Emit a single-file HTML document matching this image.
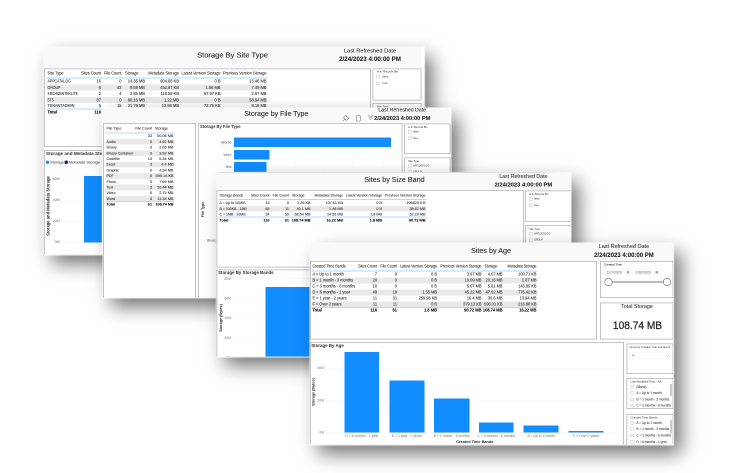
<!DOCTYPE html>
<html lang="en"><head><meta charset="utf-8"><title>Storage reports</title>
<style>
html,body{margin:0;padding:0;background:#fff;}
body{width:750px;height:473px;overflow:hidden;position:relative;font-family:"Liberation Sans", sans-serif;color:#333;}
.p{position:absolute;width:0;height:0;}
.c{position:absolute;overflow:hidden;background:#fff;box-shadow:0 0 2px 1.5px rgba(255,255,255,0.9),16px 18px 37px rgba(0,0,0,0.57);}
.b{position:absolute;left:0;top:0;width:800px;height:460px;transform-origin:0 0;transform:scale(0.5);will-change:transform;}
.r{position:absolute;}
.t{position:absolute;white-space:nowrap;line-height:1.2;-webkit-text-stroke:0.12px currentColor;z-index:1;}
.l{-webkit-text-stroke:0;}
.h{-webkit-text-stroke:0.5px currentColor;}
.h2{-webkit-text-stroke:0.18px currentColor;}
</style></head>
<body>
<div class="p" style="left:43px;top:47px"><div class="b"><div class="c" style="left:1.8px;top:0px;width:760.4px;height:415px"><div class="r" style="left:0px;top:0px;width:754.2px;height:41px;background:#f9f9f9;"></div><div class="t h2" style="left:377.2px;top:7.24px;font-size:15.1px;color:#2a2a2a;transform:translateX(-50%);transform-origin:50% 50%;">Storage By Site Type</div><div class="t" style="left:652.2px;top:0.73px;font-size:11.4px;color:#303030;transform:translateX(-50%);transform-origin:50% 50%;">Last Refreshed Date</div><div class="t" style="left:652.2px;top:16.9px;font-size:12.43px;font-weight:700;color:#1a1a1a;transform:translateX(-50%);transform-origin:50% 50%;">2/24/2023 4:00:00 PM</div><div class="r" style="left:0px;top:42.6px;width:653.8px;height:157.8px;background:#fff;box-shadow:inset 0 0 0 1.6px #b4b4b4;"></div><div class="t" style="left:7.4px;top:47.39px;font-size:8.4px;color:#2a2a2a;transform:scaleX(0.92);transform-origin:0 50%;">Site Type</div><div class="t" style="left:114.6px;top:47.39px;font-size:8.4px;color:#2a2a2a;transform:translateX(-100%) scaleX(0.92);transform-origin:100% 50%;">Sites Count</div><div class="t" style="left:155.6px;top:47.39px;font-size:8.4px;color:#2a2a2a;transform:translateX(-100%) scaleX(0.92);transform-origin:100% 50%;">File Count</div><div class="t" style="left:162.2px;top:47.39px;font-size:8.4px;color:#2a2a2a;transform:scaleX(0.92);transform-origin:0 50%;">Storage</div><div class="t" style="left:269.8px;top:47.39px;font-size:8.4px;color:#2a2a2a;transform:translateX(-100%) scaleX(0.92);transform-origin:100% 50%;">Metadata Storage</div><div class="t" style="left:353px;top:47.39px;font-size:8.4px;color:#2a2a2a;transform:translateX(-100%) scaleX(0.92);transform-origin:100% 50%;">Latest Version Storage</div><div class="t" style="left:445.2px;top:47.39px;font-size:8.4px;color:#2a2a2a;transform:translateX(-100%) scaleX(0.92);transform-origin:100% 50%;">Previous Version Storage</div><div class="r" style="left:5.2px;top:61px;width:442px;height:2px;background:#b3d9f7;"></div><div class="t" style="left:7.4px;top:63.19px;font-size:8.4px;color:#262626;transform:scaleX(0.84);transform-origin:0 50%;">APPCATALOG</div><div class="t" style="left:114.6px;top:63.19px;font-size:8.4px;color:#262626;transform:translateX(-100%) scaleX(0.96);transform-origin:100% 50%;">16</div><div class="t" style="left:155.6px;top:63.19px;font-size:8.4px;color:#262626;transform:translateX(-100%) scaleX(0.96);transform-origin:100% 50%;">0</div><div class="t" style="left:202.6px;top:63.19px;font-size:8.4px;color:#262626;transform:translateX(-100%) scaleX(0.96);transform-origin:100% 50%;">14.35 MB</div><div class="t" style="left:269.8px;top:63.19px;font-size:8.4px;color:#262626;transform:translateX(-100%) scaleX(0.96);transform-origin:100% 50%;">904.88 KB</div><div class="t" style="left:353px;top:63.19px;font-size:8.4px;color:#262626;transform:translateX(-100%) scaleX(0.96);transform-origin:100% 50%;">0 B</div><div class="t" style="left:445.2px;top:63.19px;font-size:8.4px;color:#262626;transform:translateX(-100%) scaleX(0.96);transform-origin:100% 50%;">13.46 MB</div><div class="r" style="left:5.2px;top:74.7px;width:442px;height:12.2px;background:#e9e9e9;"></div><div class="t" style="left:7.4px;top:75.59px;font-size:8.4px;color:#262626;transform:scaleX(0.84);transform-origin:0 50%;">GROUP</div><div class="t" style="left:114.6px;top:75.59px;font-size:8.4px;color:#262626;transform:translateX(-100%) scaleX(0.96);transform-origin:100% 50%;">6</div><div class="t" style="left:155.6px;top:75.59px;font-size:8.4px;color:#262626;transform:translateX(-100%) scaleX(0.96);transform-origin:100% 50%;">42</div><div class="t" style="left:202.6px;top:75.59px;font-size:8.4px;color:#262626;transform:translateX(-100%) scaleX(0.96);transform-origin:100% 50%;">9.59 MB</div><div class="t" style="left:269.8px;top:75.59px;font-size:8.4px;color:#262626;transform:translateX(-100%) scaleX(0.96);transform-origin:100% 50%;">452.67 KB</div><div class="t" style="left:353px;top:75.59px;font-size:8.4px;color:#262626;transform:translateX(-100%) scaleX(0.96);transform-origin:100% 50%;">1.66 MB</div><div class="t" style="left:445.2px;top:75.59px;font-size:8.4px;color:#262626;transform:translateX(-100%) scaleX(0.96);transform-origin:100% 50%;">7.49 MB</div><div class="t" style="left:7.4px;top:88.39px;font-size:8.4px;color:#262626;transform:scaleX(0.8);transform-origin:0 50%;">SRCHCENTERLITE</div><div class="t" style="left:114.6px;top:88.39px;font-size:8.4px;color:#262626;transform:translateX(-100%) scaleX(0.96);transform-origin:100% 50%;">2</div><div class="t" style="left:155.6px;top:88.39px;font-size:8.4px;color:#262626;transform:translateX(-100%) scaleX(0.96);transform-origin:100% 50%;">4</div><div class="t" style="left:202.6px;top:88.39px;font-size:8.4px;color:#262626;transform:translateX(-100%) scaleX(0.96);transform-origin:100% 50%;">2.85 MB</div><div class="t" style="left:269.8px;top:88.39px;font-size:8.4px;color:#262626;transform:translateX(-100%) scaleX(0.96);transform-origin:100% 50%;">116.58 KB</div><div class="t" style="left:353px;top:88.39px;font-size:8.4px;color:#262626;transform:translateX(-100%) scaleX(0.96);transform-origin:100% 50%;">67.97 KB</div><div class="t" style="left:445.2px;top:88.39px;font-size:8.4px;color:#262626;transform:translateX(-100%) scaleX(0.96);transform-origin:100% 50%;">2.67 MB</div><div class="r" style="left:5.2px;top:99.9px;width:442px;height:12.2px;background:#e9e9e9;"></div><div class="t" style="left:7.4px;top:100.79px;font-size:8.4px;color:#262626;transform:scaleX(0.78);transform-origin:0 50%;">STS</div><div class="t" style="left:114.6px;top:100.79px;font-size:8.4px;color:#262626;transform:translateX(-100%) scaleX(0.96);transform-origin:100% 50%;">87</div><div class="t" style="left:155.6px;top:100.79px;font-size:8.4px;color:#262626;transform:translateX(-100%) scaleX(0.96);transform-origin:100% 50%;">0</div><div class="t" style="left:202.6px;top:100.79px;font-size:8.4px;color:#262626;transform:translateX(-100%) scaleX(0.96);transform-origin:100% 50%;">60.16 MB</div><div class="t" style="left:269.8px;top:100.79px;font-size:8.4px;color:#262626;transform:translateX(-100%) scaleX(0.96);transform-origin:100% 50%;">1.22 MB</div><div class="t" style="left:353px;top:100.79px;font-size:8.4px;color:#262626;transform:translateX(-100%) scaleX(0.96);transform-origin:100% 50%;">0 B</div><div class="t" style="left:445.2px;top:100.79px;font-size:8.4px;color:#262626;transform:translateX(-100%) scaleX(0.96);transform-origin:100% 50%;">58.94 MB</div><div class="t" style="left:7.4px;top:112.19px;font-size:8.4px;color:#262626;transform:scaleX(0.9);transform-origin:0 50%;">TENANTADMIN</div><div class="t" style="left:114.6px;top:112.19px;font-size:8.4px;color:#262626;transform:translateX(-100%) scaleX(0.96);transform-origin:100% 50%;">5</div><div class="t" style="left:155.6px;top:112.19px;font-size:8.4px;color:#262626;transform:translateX(-100%) scaleX(0.96);transform-origin:100% 50%;">15</div><div class="t" style="left:202.6px;top:112.19px;font-size:8.4px;color:#262626;transform:translateX(-100%) scaleX(0.96);transform-origin:100% 50%;">21.79 MB</div><div class="t" style="left:269.8px;top:112.19px;font-size:8.4px;color:#262626;transform:translateX(-100%) scaleX(0.96);transform-origin:100% 50%;">13.56 MB</div><div class="t" style="left:353px;top:112.19px;font-size:8.4px;color:#262626;transform:translateX(-100%) scaleX(0.96);transform-origin:100% 50%;">72.75 KB</div><div class="t" style="left:445.2px;top:112.19px;font-size:8.4px;color:#262626;transform:translateX(-100%) scaleX(0.96);transform-origin:100% 50%;">8.16 MB</div><div class="r" style="left:5.2px;top:123px;width:442px;height:2px;background:#b3d9f7;"></div><div class="t" style="left:7.4px;top:125.39px;font-size:8.4px;font-weight:700;color:#000;transform:scaleX(0.98);transform-origin:0 50%;">Total</div><div class="t" style="left:114.6px;top:125.39px;font-size:8.4px;font-weight:700;color:#000;transform:translateX(-100%) scaleX(0.98);transform-origin:100% 50%;">116</div><div class="t" style="left:155.6px;top:125.39px;font-size:8.4px;font-weight:700;color:#000;transform:translateX(-100%) scaleX(0.98);transform-origin:100% 50%;">61</div><div class="t" style="left:202.6px;top:125.39px;font-size:8.4px;font-weight:700;color:#000;transform:translateX(-100%) scaleX(0.98);transform-origin:100% 50%;">108.74 MB</div><div class="t" style="left:269.8px;top:125.39px;font-size:8.4px;font-weight:700;color:#000;transform:translateX(-100%) scaleX(0.98);transform-origin:100% 50%;">16.22 MB</div><div class="t" style="left:353px;top:125.39px;font-size:8.4px;font-weight:700;color:#000;transform:translateX(-100%) scaleX(0.98);transform-origin:100% 50%;">1.8 MB</div><div class="t" style="left:445.2px;top:125.39px;font-size:8.4px;font-weight:700;color:#000;transform:translateX(-100%) scaleX(0.98);transform-origin:100% 50%;">90.72 MB</div><div class="r" style="left:657.2px;top:42.6px;width:98.2px;height:64.6px;background:#fff;box-shadow:inset 0 0 0 1.6px #b4b4b4;"></div><div class="t l" style="left:665.6px;top:46px;font-size:5.8px;color:#333;">Is In Recycle Bin</div><div class="r" style="left:665.4px;top:56.4px;width:6.4px;height:6.4px;background:#fff;box-shadow:inset 0 0 0 0.8px #bdbdbd;"></div><div class="t l" style="left:676.6px;top:56px;font-size:5.8px;color:#383838;">false</div><div class="r" style="left:665.4px;top:69.8px;width:6.4px;height:6.4px;background:#fff;box-shadow:inset 0 0 0 0.8px #bdbdbd;"></div><div class="t l" style="left:676.6px;top:69.4px;font-size:5.8px;color:#383838;">true</div><div class="r" style="left:657.2px;top:112.4px;width:98.2px;height:87.6px;background:#fff;box-shadow:inset 0 0 0 1.6px #b4b4b4;"></div><div class="t l" style="left:665.6px;top:115.6px;font-size:5.8px;color:#333;">Site Type</div><div class="r" style="left:665.4px;top:125.8px;width:6.4px;height:6.4px;background:#fff;box-shadow:inset 0 0 0 0.8px #bdbdbd;"></div><div class="t l" style="left:676.6px;top:125.4px;font-size:5.8px;color:#383838;transform:scaleX(0.84);transform-origin:0 50%;">APPCATALOG</div><div class="r" style="left:665.4px;top:138.8px;width:6.4px;height:6.4px;background:#fff;box-shadow:inset 0 0 0 0.8px #bdbdbd;"></div><div class="t l" style="left:676.6px;top:138.4px;font-size:5.8px;color:#383838;transform:scaleX(0.84);transform-origin:0 50%;">GROUP</div><div class="r" style="left:0px;top:205.6px;width:756.2px;height:221.2px;background:#fff;box-shadow:inset 0 0 0 1.6px #b4b4b4;"></div><div class="t l" style="left:4.6px;top:207.37px;font-size:9.4px;font-weight:700;color:#303030;transform:scaleX(0.98);transform-origin:0 50%;">Storage and Metadata Storage</div><div class="r" style="left:4.2px;top:227.4px;width:6.2px;height:6.2px;background:#118dff;border-radius:50%;"></div><div class="t" style="left:12.2px;top:225.7px;font-size:7.9px;color:#555;">Storage</div><div class="r" style="left:41.6px;top:227.4px;width:6.2px;height:6.2px;background:#12239e;border-radius:50%;"></div><div class="t" style="left:49.8px;top:225.7px;font-size:7.9px;color:#555;">Metadata Storage</div><div class="t l" style="left:31.4px;top:260.14px;font-size:7.2px;color:#6a6a6a;transform:translateX(-100%);transform-origin:100% 50%;">60M</div><div class="r" style="left:35.2px;top:264.2px;width:717px;height:0.8px;background:#f0f0f0;"></div><div class="t l" style="left:31.4px;top:302.14px;font-size:7.2px;color:#6a6a6a;transform:translateX(-100%);transform-origin:100% 50%;">40M</div><div class="r" style="left:35.2px;top:306.2px;width:717px;height:0.8px;background:#f0f0f0;"></div><div class="t l" style="left:31.4px;top:344.34px;font-size:7.2px;color:#6a6a6a;transform:translateX(-100%);transform-origin:100% 50%;">20M</div><div class="r" style="left:35.2px;top:348.4px;width:717px;height:0.8px;background:#f0f0f0;"></div><div class="t l" style="left:31.4px;top:386.34px;font-size:7.2px;color:#6a6a6a;transform:translateX(-100%);transform-origin:100% 50%;">0M</div><div class="r" style="left:35.2px;top:390.4px;width:717px;height:0.8px;background:#f0f0f0;"></div><div class="t l" style="left:9px;top:318px;font-size:8.3px;font-weight:700;color:#252525;transform:translate(-50%,-50%) rotate(-90deg);transform-origin:50% 50%;">Storage and Metadata Storage</div><div class="r" style="left:80.2px;top:257.9px;width:52px;height:132.9px;background:#118dff;"></div></div></div></div>
<div class="p" style="left:103px;top:107px"><div class="b"><div class="r" style="left:-3.2px;top:2.4px;width:3.6px;height:292.2px;background:linear-gradient(to right,rgba(255,255,255,0),#fff 45%);z-index:2"></div><div class="c" style="left:0px;top:1.6px;width:695px;height:379px"><div class="r" style="left:0px;top:0px;width:692.6px;height:30.8px;background:#f9f9f9;"></div><div class="t h2" style="left:346.6px;top:3.72px;font-size:14px;color:#2a2a2a;transform:translateX(-50%);transform-origin:50% 50%;">Storage by File Type</div><div class="t" style="left:598.4px;top:-2.05px;font-size:10.4px;color:#303030;transform:translateX(-50%);transform-origin:50% 50%;">Last Refreshed Date</div><div class="t" style="left:598.4px;top:14.39px;font-size:11.3px;font-weight:700;color:#1a1a1a;transform:translateX(-50%);transform-origin:50% 50%;">2/24/2023 4:00:00 PM</div><div class="r" style="left:0.2px;top:30.8px;width:186px;height:354.4px;background:#fff;box-shadow:inset 0 0 0 1.6px #b4b4b4;"></div><div class="t" style="left:6.6px;top:36.84px;font-size:8px;color:#2a2a2a;transform:scaleX(0.92);transform-origin:0 50%;">File Type</div><div class="t" style="left:97.8px;top:36.84px;font-size:8px;color:#2a2a2a;transform:translateX(-100%) scaleX(0.92);transform-origin:100% 50%;">File Count</div><div class="t" style="left:103.6px;top:36.84px;font-size:8px;color:#2a2a2a;transform:scaleX(0.92);transform-origin:0 50%;">Storage</div><div class="r" style="left:4.6px;top:49.35px;width:138px;height:2px;background:#b3d9f7;"></div><div class="t" style="left:97.8px;top:51.84px;font-size:8px;color:#262626;transform:translateX(-100%) scaleX(0.96);transform-origin:100% 50%;">33</div><div class="t" style="left:141px;top:51.84px;font-size:8px;color:#262626;transform:translateX(-100%) scaleX(0.96);transform-origin:100% 50%;">50.06 MB</div><div class="r" style="left:4.6px;top:62.5px;width:138px;height:11.4px;background:#e9e9e9;"></div><div class="t" style="left:6.6px;top:63.24px;font-size:8px;color:#262626;transform:scaleX(0.9);transform-origin:0 50%;">Audio</div><div class="t" style="left:97.8px;top:63.24px;font-size:8px;color:#262626;transform:translateX(-100%) scaleX(0.96);transform-origin:100% 50%;">0</div><div class="t" style="left:141px;top:63.24px;font-size:8px;color:#262626;transform:translateX(-100%) scaleX(0.96);transform-origin:100% 50%;">4.92 MB</div><div class="t" style="left:6.6px;top:74.64px;font-size:8px;color:#262626;transform:scaleX(0.9);transform-origin:0 50%;">Binary</div><div class="t" style="left:97.8px;top:74.64px;font-size:8px;color:#262626;transform:translateX(-100%) scaleX(0.96);transform-origin:100% 50%;">3</div><div class="t" style="left:141px;top:74.64px;font-size:8px;color:#262626;transform:translateX(-100%) scaleX(0.96);transform-origin:100% 50%;">2.65 MB</div><div class="r" style="left:4.6px;top:85.3px;width:138px;height:11.4px;background:#e9e9e9;"></div><div class="t" style="left:6.6px;top:86.04px;font-size:8px;color:#262626;transform:scaleX(0.9);transform-origin:0 50%;">Binary Container</div><div class="t" style="left:97.8px;top:86.04px;font-size:8px;color:#262626;transform:translateX(-100%) scaleX(0.96);transform-origin:100% 50%;">0</div><div class="t" style="left:141px;top:86.04px;font-size:8px;color:#262626;transform:translateX(-100%) scaleX(0.96);transform-origin:100% 50%;">3.92 MB</div><div class="t" style="left:6.6px;top:97.44px;font-size:8px;color:#262626;transform:scaleX(0.9);transform-origin:0 50%;">Codefile</div><div class="t" style="left:97.8px;top:97.44px;font-size:8px;color:#262626;transform:translateX(-100%) scaleX(0.96);transform-origin:100% 50%;">13</div><div class="t" style="left:141px;top:97.44px;font-size:8px;color:#262626;transform:translateX(-100%) scaleX(0.96);transform-origin:100% 50%;">5.34 MB</div><div class="r" style="left:4.6px;top:108.1px;width:138px;height:11.4px;background:#e9e9e9;"></div><div class="t" style="left:6.6px;top:108.84px;font-size:8px;color:#262626;transform:scaleX(0.9);transform-origin:0 50%;">Excel</div><div class="t" style="left:97.8px;top:108.84px;font-size:8px;color:#262626;transform:translateX(-100%) scaleX(0.96);transform-origin:100% 50%;">3</div><div class="t" style="left:141px;top:108.84px;font-size:8px;color:#262626;transform:translateX(-100%) scaleX(0.96);transform-origin:100% 50%;">4.4 MB</div><div class="t" style="left:6.6px;top:120.24px;font-size:8px;color:#262626;transform:scaleX(0.9);transform-origin:0 50%;">Graphic</div><div class="t" style="left:97.8px;top:120.24px;font-size:8px;color:#262626;transform:translateX(-100%) scaleX(0.96);transform-origin:100% 50%;">0</div><div class="t" style="left:141px;top:120.24px;font-size:8px;color:#262626;transform:translateX(-100%) scaleX(0.96);transform-origin:100% 50%;">4.34 MB</div><div class="r" style="left:4.6px;top:130.9px;width:138px;height:11.4px;background:#e9e9e9;"></div><div class="t" style="left:6.6px;top:131.64px;font-size:8px;color:#262626;transform:scaleX(0.9);transform-origin:0 50%;">PDF</div><div class="t" style="left:97.8px;top:131.64px;font-size:8px;color:#262626;transform:translateX(-100%) scaleX(0.96);transform-origin:100% 50%;">0</div><div class="t" style="left:141px;top:131.64px;font-size:8px;color:#262626;transform:translateX(-100%) scaleX(0.96);transform-origin:100% 50%;">595.14 KB</div><div class="t" style="left:6.6px;top:143.04px;font-size:8px;color:#262626;transform:scaleX(0.9);transform-origin:0 50%;">Photo</div><div class="t" style="left:97.8px;top:143.04px;font-size:8px;color:#262626;transform:translateX(-100%) scaleX(0.96);transform-origin:100% 50%;">3</div><div class="t" style="left:141px;top:143.04px;font-size:8px;color:#262626;transform:translateX(-100%) scaleX(0.96);transform-origin:100% 50%;">7.69 MB</div><div class="r" style="left:4.6px;top:153.7px;width:138px;height:11.4px;background:#e9e9e9;"></div><div class="t" style="left:6.6px;top:154.44px;font-size:8px;color:#262626;transform:scaleX(0.9);transform-origin:0 50%;">Text</div><div class="t" style="left:97.8px;top:154.44px;font-size:8px;color:#262626;transform:translateX(-100%) scaleX(0.96);transform-origin:100% 50%;">3</div><div class="t" style="left:141px;top:154.44px;font-size:8px;color:#262626;transform:translateX(-100%) scaleX(0.96);transform-origin:100% 50%;">10.44 MB</div><div class="t" style="left:6.6px;top:165.84px;font-size:8px;color:#262626;transform:scaleX(0.9);transform-origin:0 50%;">Video</div><div class="t" style="left:97.8px;top:165.84px;font-size:8px;color:#262626;transform:translateX(-100%) scaleX(0.96);transform-origin:100% 50%;">0</div><div class="t" style="left:141px;top:165.84px;font-size:8px;color:#262626;transform:translateX(-100%) scaleX(0.96);transform-origin:100% 50%;">2.75 MB</div><div class="r" style="left:4.6px;top:176.5px;width:138px;height:11.4px;background:#e9e9e9;"></div><div class="t" style="left:6.6px;top:177.24px;font-size:8px;color:#262626;transform:scaleX(0.9);transform-origin:0 50%;">Word</div><div class="t" style="left:97.8px;top:177.24px;font-size:8px;color:#262626;transform:translateX(-100%) scaleX(0.96);transform-origin:100% 50%;">3</div><div class="t" style="left:141px;top:177.24px;font-size:8px;color:#262626;transform:translateX(-100%) scaleX(0.96);transform-origin:100% 50%;">11.34 MB</div><div class="r" style="left:4.6px;top:186.67px;width:138px;height:2px;background:#b3d9f7;"></div><div class="t" style="left:6.6px;top:188.64px;font-size:8px;font-weight:700;color:#000;transform:scaleX(0.92);transform-origin:0 50%;">Total</div><div class="t" style="left:97.8px;top:188.64px;font-size:8px;font-weight:700;color:#000;transform:translateX(-100%) scaleX(0.92);transform-origin:100% 50%;">61</div><div class="t" style="left:141px;top:188.64px;font-size:8px;font-weight:700;color:#000;transform:translateX(-100%) scaleX(0.92);transform-origin:100% 50%;">108.74 MB</div><div class="r" style="left:190px;top:30.8px;width:409.2px;height:354.4px;background:#fff;box-shadow:inset 0 0 0 1.6px #b4b4b4;"></div><div class="t l" style="left:193.6px;top:32.87px;font-size:8.6px;font-weight:700;color:#383838;transform:scaleX(0.96);transform-origin:0 50%;">Storage By File Type</div><div class="r" style="left:322.2px;top:46.4px;width:0.8px;height:318px;background:#fafafa;"></div><div class="r" style="left:381.6px;top:46.4px;width:0.8px;height:318px;background:#fafafa;"></div><div class="r" style="left:440.8px;top:46.4px;width:0.8px;height:318px;background:#fafafa;"></div><div class="r" style="left:500px;top:46.4px;width:0.8px;height:318px;background:#fafafa;"></div><div class="r" style="left:559.2px;top:46.4px;width:0.8px;height:318px;background:#fafafa;"></div><div class="r" style="left:262px;top:59.6px;width:314px;height:19.2px;background:#118dff;"></div><div class="t l" style="left:256.8px;top:65.58px;font-size:6.8px;color:#606060;transform:translateX(-100%);transform-origin:100% 50%;">(Blank)</div><div class="r" style="left:262px;top:84px;width:70.8px;height:19.2px;background:#118dff;"></div><div class="t l" style="left:256.8px;top:89.98px;font-size:6.8px;color:#606060;transform:translateX(-100%);transform-origin:100% 50%;">Word</div><div class="r" style="left:262px;top:108.8px;width:65.4px;height:19.2px;background:#118dff;"></div><div class="t l" style="left:256.8px;top:114.78px;font-size:6.8px;color:#606060;transform:translateX(-100%);transform-origin:100% 50%;">Text</div><div class="t l" style="left:227.6px;top:261.38px;font-size:6.8px;color:#606060;transform:translateX(-100%);transform-origin:100% 50%;">Binary</div><div class="t l" style="left:199.6px;top:203.8px;font-size:7.3px;font-weight:700;color:#252525;transform:translate(-50%,-50%) rotate(-90deg);transform-origin:50% 50%;">File Type</div><div class="r" style="left:602px;top:31.4px;width:93px;height:60.8px;background:#fff;box-shadow:inset 0 0 0 1.6px #b4b4b4;"></div><div class="t l" style="left:610.4px;top:34.98px;font-size:5.2px;color:#333;">Is In Recycle Bin</div><div class="r" style="left:610.2px;top:44.8px;width:6.4px;height:6.4px;background:#fff;box-shadow:inset 0 0 0 0.8px #bdbdbd;"></div><div class="t l" style="left:619.8px;top:44.4px;font-size:5.8px;color:#383838;">false</div><div class="r" style="left:610.2px;top:57.4px;width:6.4px;height:6.4px;background:#fff;box-shadow:inset 0 0 0 0.8px #bdbdbd;"></div><div class="t l" style="left:619.8px;top:57px;font-size:5.8px;color:#383838;">true</div><div class="r" style="left:602px;top:99.6px;width:93px;height:85.6px;background:#fff;box-shadow:inset 0 0 0 1.6px #b4b4b4;"></div><div class="t l" style="left:610.4px;top:103.78px;font-size:5.2px;color:#333;">Site Type</div><div class="r" style="left:610.2px;top:112.6px;width:6.4px;height:6.4px;background:#fff;box-shadow:inset 0 0 0 0.8px #bdbdbd;"></div><div class="t l" style="left:619.8px;top:112.2px;font-size:5.8px;color:#383838;transform:scaleX(0.84);transform-origin:0 50%;">APPCATALOG</div><div class="r" style="left:610.2px;top:125px;width:6.4px;height:6.4px;background:#fff;box-shadow:inset 0 0 0 0.8px #bdbdbd;"></div><div class="t l" style="left:619.8px;top:124.6px;font-size:5.8px;color:#383838;transform:scaleX(0.84);transform-origin:0 50%;">GROUP</div><div class="r" style="left:476.8px;top:9.6px;width:21.6px;height:20.4px;background:#fdfdfd;"></div><div class="r" style="left:500.8px;top:9.6px;width:21.6px;height:20.4px;background:#fdfdfd;"></div><div class="r" style="left:525.2px;top:9.6px;width:21.6px;height:20.4px;background:#fdfdfd;"></div><svg class="r" style="left:474.4px;top:10.2px" width="72" height="20" viewBox="0 0 36 10"><g fill="none" stroke="#8c8c8c" stroke-width="0.7" stroke-linejoin="round" stroke-linecap="round"><path d="M5.6 2.3 L8.7 5.1 L6.3 7.5 L3.4 4.5 Z M4.9 6.0 L2.7 8.1"/><rect x="16.2" y="2.6" width="4.4" height="5.6" rx="1.7"/><path d="M28.0 3.0 H33.4 M29.2 4.9 H32.2 M30.1 6.8 H31.3"/></g></svg></div></div></div>
<div class="p" style="left:216px;top:172px"><div class="b"><div class="r" style="left:3px;top:-0.2px;width:679px;height:1.2px;background:linear-gradient(to right,rgba(150,150,150,0.5) 96%,rgba(150,150,150,0));z-index:2"></div><div class="c" style="left:1px;top:1px;width:708px;height:368.4px"><div class="r" style="left:0px;top:0px;width:708px;height:35px;background:#f9f9f9;"></div><div class="t h2" style="left:355.8px;top:6.47px;font-size:14.4px;color:#2a2a2a;transform:translateX(-50%);transform-origin:50% 50%;">Sites by Size Band</div><div class="t" style="left:613.8px;top:1.49px;font-size:10.5px;color:#303030;transform:translateX(-50%);transform-origin:50% 50%;">Last Refreshed Date</div><div class="t" style="left:613.8px;top:17.41px;font-size:11.6px;font-weight:700;color:#1a1a1a;transform:translateX(-50%);transform-origin:50% 50%;">2/24/2023 4:00:00 PM</div><div class="r" style="left:0.2px;top:35px;width:614.4px;height:154.8px;background:#fff;box-shadow:inset 0 0 0 1.6px #b4b4b4;"></div><div class="t" style="left:6px;top:40.56px;font-size:7.8px;color:#2a2a2a;transform:scaleX(0.92);transform-origin:0 50%;">Storage Bands</div><div class="t" style="left:105.6px;top:40.56px;font-size:7.8px;color:#2a2a2a;transform:translateX(-100%) scaleX(0.92);transform-origin:100% 50%;">Sites Count</div><div class="t" style="left:144.6px;top:40.56px;font-size:7.8px;color:#2a2a2a;transform:translateX(-100%) scaleX(0.92);transform-origin:100% 50%;">File Count</div><div class="t" style="left:151px;top:40.56px;font-size:7.8px;color:#2a2a2a;transform:scaleX(0.92);transform-origin:0 50%;">Storage</div><div class="t" style="left:253.4px;top:40.56px;font-size:7.8px;color:#2a2a2a;transform:translateX(-100%) scaleX(0.92);transform-origin:100% 50%;">Metadata Storage</div><div class="t" style="left:331.4px;top:40.56px;font-size:7.8px;color:#2a2a2a;transform:translateX(-100%) scaleX(0.92);transform-origin:100% 50%;">Latest Version Storage</div><div class="t" style="left:417.8px;top:40.56px;font-size:7.8px;color:#2a2a2a;transform:translateX(-100%) scaleX(0.92);transform-origin:100% 50%;">Previous Version Storage</div><div class="r" style="left:4px;top:53.09px;width:415.6px;height:2px;background:#b3d9f7;"></div><div class="t" style="left:6px;top:56.16px;font-size:7.8px;color:#262626;transform:scaleX(0.9);transform-origin:0 50%;">A = Up to 100KB</div><div class="t" style="left:105.6px;top:56.16px;font-size:7.8px;color:#262626;transform:translateX(-100%) scaleX(0.96);transform-origin:100% 50%;">13</div><div class="t" style="left:144.6px;top:56.16px;font-size:7.8px;color:#262626;transform:translateX(-100%) scaleX(0.96);transform-origin:100% 50%;">0</div><div class="t" style="left:188.4px;top:56.16px;font-size:7.8px;color:#262626;transform:translateX(-100%) scaleX(0.96);transform-origin:100% 50%;">1.26 KB</div><div class="t" style="left:253.4px;top:56.16px;font-size:7.8px;color:#262626;transform:translateX(-100%) scaleX(0.96);transform-origin:100% 50%;">107.61 KB</div><div class="t" style="left:331.4px;top:56.16px;font-size:7.8px;color:#262626;transform:translateX(-100%) scaleX(0.96);transform-origin:100% 50%;">0 B</div><div class="t" style="left:417.8px;top:56.16px;font-size:7.8px;color:#262626;transform:translateX(-100%) scaleX(0.96);transform-origin:100% 50%;">-106829.0 B</div><div class="r" style="left:4px;top:66.8px;width:415.6px;height:11.6px;background:#e9e9e9;"></div><div class="t" style="left:6px;top:67.76px;font-size:7.8px;color:#262626;transform:scaleX(0.9);transform-origin:0 50%;">B = 100KB - 1MB</div><div class="t" style="left:105.6px;top:67.76px;font-size:7.8px;color:#262626;transform:translateX(-100%) scaleX(0.96);transform-origin:100% 50%;">69</div><div class="t" style="left:144.6px;top:67.76px;font-size:7.8px;color:#262626;transform:translateX(-100%) scaleX(0.96);transform-origin:100% 50%;">11</div><div class="t" style="left:188.4px;top:67.76px;font-size:7.8px;color:#262626;transform:translateX(-100%) scaleX(0.96);transform-origin:100% 50%;">40.1 MB</div><div class="t" style="left:253.4px;top:67.76px;font-size:7.8px;color:#262626;transform:translateX(-100%) scaleX(0.96);transform-origin:100% 50%;">1.48 MB</div><div class="t" style="left:331.4px;top:67.76px;font-size:7.8px;color:#262626;transform:translateX(-100%) scaleX(0.96);transform-origin:100% 50%;">0 B</div><div class="t" style="left:417.8px;top:67.76px;font-size:7.8px;color:#262626;transform:translateX(-100%) scaleX(0.96);transform-origin:100% 50%;">38.62 MB</div><div class="t" style="left:6px;top:79.16px;font-size:7.8px;color:#262626;transform:scaleX(0.9);transform-origin:0 50%;">C = 1MB - 10MB</div><div class="t" style="left:105.6px;top:79.16px;font-size:7.8px;color:#262626;transform:translateX(-100%) scaleX(0.96);transform-origin:100% 50%;">34</div><div class="t" style="left:144.6px;top:79.16px;font-size:7.8px;color:#262626;transform:translateX(-100%) scaleX(0.96);transform-origin:100% 50%;">50</div><div class="t" style="left:188.4px;top:79.16px;font-size:7.8px;color:#262626;transform:translateX(-100%) scaleX(0.96);transform-origin:100% 50%;">68.64 MB</div><div class="t" style="left:253.4px;top:79.16px;font-size:7.8px;color:#262626;transform:translateX(-100%) scaleX(0.96);transform-origin:100% 50%;">14.56 MB</div><div class="t" style="left:331.4px;top:79.16px;font-size:7.8px;color:#262626;transform:translateX(-100%) scaleX(0.96);transform-origin:100% 50%;">1.8 MB</div><div class="t" style="left:417.8px;top:79.16px;font-size:7.8px;color:#262626;transform:translateX(-100%) scaleX(0.96);transform-origin:100% 50%;">52.29 MB</div><div class="r" style="left:4px;top:88.37px;width:415.6px;height:2px;background:#b3d9f7;"></div><div class="t" style="left:6px;top:90.56px;font-size:7.8px;font-weight:700;color:#000;transform:scaleX(0.98);transform-origin:0 50%;">Total</div><div class="t" style="left:105.6px;top:90.56px;font-size:7.8px;font-weight:700;color:#000;transform:translateX(-100%) scaleX(0.98);transform-origin:100% 50%;">116</div><div class="t" style="left:144.6px;top:90.56px;font-size:7.8px;font-weight:700;color:#000;transform:translateX(-100%) scaleX(0.98);transform-origin:100% 50%;">61</div><div class="t" style="left:188.4px;top:90.56px;font-size:7.8px;font-weight:700;color:#000;transform:translateX(-100%) scaleX(0.98);transform-origin:100% 50%;">108.74 MB</div><div class="t" style="left:253.4px;top:90.56px;font-size:7.8px;font-weight:700;color:#000;transform:translateX(-100%) scaleX(0.98);transform-origin:100% 50%;">16.22 MB</div><div class="t" style="left:331.4px;top:90.56px;font-size:7.8px;font-weight:700;color:#000;transform:translateX(-100%) scaleX(0.98);transform-origin:100% 50%;">1.8 MB</div><div class="t" style="left:417.8px;top:90.56px;font-size:7.8px;font-weight:700;color:#000;transform:translateX(-100%) scaleX(0.98);transform-origin:100% 50%;">90.72 MB</div><div class="r" style="left:0.2px;top:193.6px;width:614.4px;height:182.2px;background:#fff;box-shadow:inset 0 0 0 1.6px #b4b4b4;"></div><div class="t l" style="left:3.2px;top:194.94px;font-size:8.8px;font-weight:700;color:#303030;transform:scaleX(1);transform-origin:0 50%;">Storage By Storage Bands</div><div class="t l" style="left:29px;top:208.58px;font-size:6.8px;color:#777;transform:translateX(-100%);transform-origin:100% 50%;">80M</div><div class="r" style="left:32px;top:212.4px;width:577px;height:0.8px;background:#f3f3f3;"></div><div class="t l" style="left:29px;top:247.78px;font-size:6.8px;color:#777;transform:translateX(-100%);transform-origin:100% 50%;">60M</div><div class="r" style="left:32px;top:251.6px;width:577px;height:0.8px;background:#f3f3f3;"></div><div class="t l" style="left:29px;top:287.18px;font-size:6.8px;color:#777;transform:translateX(-100%);transform-origin:100% 50%;">40M</div><div class="r" style="left:32px;top:291px;width:577px;height:0.8px;background:#f3f3f3;"></div><div class="t l" style="left:29px;top:326.58px;font-size:6.8px;color:#777;transform:translateX(-100%);transform-origin:100% 50%;">20M</div><div class="r" style="left:32px;top:330.4px;width:577px;height:0.8px;background:#f3f3f3;"></div><div class="t l" style="left:29px;top:365.78px;font-size:6.8px;color:#777;transform:translateX(-100%);transform-origin:100% 50%;">0M</div><div class="r" style="left:32px;top:369.6px;width:577px;height:0.8px;background:#f3f3f3;"></div><div class="t l" style="left:7.8px;top:291.2px;font-size:7.5px;font-weight:700;color:#252525;transform:translate(-50%,-50%) rotate(-90deg);transform-origin:50% 50%;">Storage (Bytes)</div><div class="r" style="left:98.4px;top:228.6px;width:92.6px;height:146.4px;background:#118dff;"></div><div class="r" style="left:617px;top:36px;width:94.8px;height:62.6px;background:#fff;box-shadow:inset 0 0 0 1.6px #b4b4b4;"></div><div class="t l" style="left:625.4px;top:39.78px;font-size:5.2px;color:#333;">Is In Recycle Bin</div><div class="r" style="left:625.2px;top:49.6px;width:6.4px;height:6.4px;background:#fff;box-shadow:inset 0 0 0 0.8px #bdbdbd;"></div><div class="t l" style="left:634.8px;top:49.2px;font-size:5.8px;color:#383838;">false</div><div class="r" style="left:625.2px;top:62.2px;width:6.4px;height:6.4px;background:#fff;box-shadow:inset 0 0 0 0.8px #bdbdbd;"></div><div class="t l" style="left:634.8px;top:61.8px;font-size:5.8px;color:#383838;">true</div><div class="r" style="left:617px;top:105.2px;width:94.8px;height:70.6px;background:#fff;box-shadow:inset 0 0 0 1.6px #b4b4b4;"></div><div class="t l" style="left:625.4px;top:109.58px;font-size:5.2px;color:#333;">Site Type</div><div class="r" style="left:625.2px;top:119.2px;width:6.4px;height:6.4px;background:#fff;box-shadow:inset 0 0 0 0.8px #bdbdbd;"></div><div class="t l" style="left:634.8px;top:118.8px;font-size:5.8px;color:#383838;transform:scaleX(0.84);transform-origin:0 50%;">APPCATALOG</div><div class="r" style="left:625.2px;top:131.8px;width:6.4px;height:6.4px;background:#fff;box-shadow:inset 0 0 0 0.8px #bdbdbd;"></div><div class="t l" style="left:634.8px;top:131.4px;font-size:5.8px;color:#383838;transform:scaleX(0.84);transform-origin:0 50%;">GROUP</div></div></div></div>
<div class="p" style="left:310px;top:242px"><div class="b"><div class="c" style="left:0px;top:1.8px;width:726.4px;height:403.6px"><div class="r" style="left:0px;top:0px;width:726.4px;height:36.2px;background:#f9f9f9;"></div><div class="t h2" style="left:362px;top:7.27px;font-size:14.4px;color:#2a2a2a;transform:translateX(-50%);transform-origin:50% 50%;">Sites by Age</div><div class="t" style="left:627.8px;top:0.38px;font-size:11px;color:#303030;transform:translateX(-50%);transform-origin:50% 50%;">Last Refreshed Date</div><div class="t" style="left:627.8px;top:17.17px;font-size:11.99px;font-weight:700;color:#1a1a1a;transform:translateX(-50%);transform-origin:50% 50%;">2/24/2023 4:00:00 PM</div><div class="r" style="left:-0.2px;top:36.4px;width:574px;height:156.6px;background:#fff;box-shadow:inset 0 0 0 1.6px #b4b4b4;"></div><div class="t" style="left:4.6px;top:42.12px;font-size:8.2px;color:#2a2a2a;transform:scaleX(0.89);transform-origin:0 50%;">Created Time Bands</div><div class="t" style="left:133.6px;top:42.12px;font-size:8.2px;color:#2a2a2a;transform:translateX(-100%) scaleX(0.89);transform-origin:100% 50%;">Sites Count</div><div class="t" style="left:173.6px;top:42.12px;font-size:8.2px;color:#2a2a2a;transform:translateX(-100%) scaleX(0.89);transform-origin:100% 50%;">File Count</div><div class="t" style="left:254.2px;top:42.12px;font-size:8.2px;color:#2a2a2a;transform:translateX(-100%) scaleX(0.89);transform-origin:100% 50%;">Latest Version Storage</div><div class="t" style="left:343.2px;top:42.12px;font-size:8.2px;color:#2a2a2a;transform:translateX(-100%) scaleX(0.89);transform-origin:100% 50%;">Previous Version Storage</div><div class="t" style="left:349.2px;top:42.12px;font-size:8.2px;color:#2a2a2a;transform:scaleX(0.89);transform-origin:0 50%;">Storage</div><div class="t" style="left:453px;top:42.12px;font-size:8.2px;color:#2a2a2a;transform:translateX(-100%) scaleX(0.89);transform-origin:100% 50%;">Metadata Storage</div><div class="r" style="left:2.6px;top:55.12px;width:452.6px;height:2px;background:#b3d9f7;"></div><div class="t" style="left:4.6px;top:58.12px;font-size:8.2px;color:#262626;transform:scaleX(0.95);transform-origin:0 50%;">A = Up to 1 month</div><div class="t" style="left:133.6px;top:58.12px;font-size:8.2px;color:#262626;transform:translateX(-100%) scaleX(0.96);transform-origin:100% 50%;">7</div><div class="t" style="left:173.6px;top:58.12px;font-size:8.2px;color:#262626;transform:translateX(-100%) scaleX(0.96);transform-origin:100% 50%;">0</div><div class="t" style="left:254.2px;top:58.12px;font-size:8.2px;color:#262626;transform:translateX(-100%) scaleX(0.96);transform-origin:100% 50%;">0 B</div><div class="t" style="left:343.2px;top:58.12px;font-size:8.2px;color:#262626;transform:translateX(-100%) scaleX(0.96);transform-origin:100% 50%;">3.97 MB</div><div class="t" style="left:385.4px;top:58.12px;font-size:8.2px;color:#262626;transform:translateX(-100%) scaleX(0.96);transform-origin:100% 50%;">4.07 MB</div><div class="t" style="left:453px;top:58.12px;font-size:8.2px;color:#262626;transform:translateX(-100%) scaleX(0.96);transform-origin:100% 50%;">100.71 KB</div><div class="r" style="left:2.6px;top:69.17px;width:452.6px;height:11.94px;background:#e9e9e9;"></div><div class="t" style="left:4.6px;top:70.06px;font-size:8.2px;color:#262626;transform:scaleX(0.95);transform-origin:0 50%;">B = 1 month - 3 months</div><div class="t" style="left:133.6px;top:70.06px;font-size:8.2px;color:#262626;transform:translateX(-100%) scaleX(0.96);transform-origin:100% 50%;">29</div><div class="t" style="left:173.6px;top:70.06px;font-size:8.2px;color:#262626;transform:translateX(-100%) scaleX(0.96);transform-origin:100% 50%;">0</div><div class="t" style="left:254.2px;top:70.06px;font-size:8.2px;color:#262626;transform:translateX(-100%) scaleX(0.96);transform-origin:100% 50%;">0 B</div><div class="t" style="left:343.2px;top:70.06px;font-size:8.2px;color:#262626;transform:translateX(-100%) scaleX(0.96);transform-origin:100% 50%;">19.09 MB</div><div class="t" style="left:385.4px;top:70.06px;font-size:8.2px;color:#262626;transform:translateX(-100%) scaleX(0.96);transform-origin:100% 50%;">20.16 MB</div><div class="t" style="left:453px;top:70.06px;font-size:8.2px;color:#262626;transform:translateX(-100%) scaleX(0.96);transform-origin:100% 50%;">1.07 MB</div><div class="t" style="left:4.6px;top:82px;font-size:8.2px;color:#262626;transform:scaleX(0.95);transform-origin:0 50%;">C = 3 months - 6 months</div><div class="t" style="left:133.6px;top:82px;font-size:8.2px;color:#262626;transform:translateX(-100%) scaleX(0.96);transform-origin:100% 50%;">10</div><div class="t" style="left:173.6px;top:82px;font-size:8.2px;color:#262626;transform:translateX(-100%) scaleX(0.96);transform-origin:100% 50%;">0</div><div class="t" style="left:254.2px;top:82px;font-size:8.2px;color:#262626;transform:translateX(-100%) scaleX(0.96);transform-origin:100% 50%;">0 B</div><div class="t" style="left:343.2px;top:82px;font-size:8.2px;color:#262626;transform:translateX(-100%) scaleX(0.96);transform-origin:100% 50%;">5.67 MB</div><div class="t" style="left:385.4px;top:82px;font-size:8.2px;color:#262626;transform:translateX(-100%) scaleX(0.96);transform-origin:100% 50%;">5.81 MB</div><div class="t" style="left:453px;top:82px;font-size:8.2px;color:#262626;transform:translateX(-100%) scaleX(0.96);transform-origin:100% 50%;">143.85 KB</div><div class="r" style="left:2.6px;top:93.05px;width:452.6px;height:11.94px;background:#e9e9e9;"></div><div class="t" style="left:4.6px;top:93.94px;font-size:8.2px;color:#262626;transform:scaleX(0.95);transform-origin:0 50%;">D = 6 months - 1 year</div><div class="t" style="left:133.6px;top:93.94px;font-size:8.2px;color:#262626;transform:translateX(-100%) scaleX(0.96);transform-origin:100% 50%;">48</div><div class="t" style="left:173.6px;top:93.94px;font-size:8.2px;color:#262626;transform:translateX(-100%) scaleX(0.96);transform-origin:100% 50%;">19</div><div class="t" style="left:254.2px;top:93.94px;font-size:8.2px;color:#262626;transform:translateX(-100%) scaleX(0.96);transform-origin:100% 50%;">1.55 MB</div><div class="t" style="left:343.2px;top:93.94px;font-size:8.2px;color:#262626;transform:translateX(-100%) scaleX(0.96);transform-origin:100% 50%;">45.22 MB</div><div class="t" style="left:385.4px;top:93.94px;font-size:8.2px;color:#262626;transform:translateX(-100%) scaleX(0.96);transform-origin:100% 50%;">47.52 MB</div><div class="t" style="left:453px;top:93.94px;font-size:8.2px;color:#262626;transform:translateX(-100%) scaleX(0.96);transform-origin:100% 50%;">776.42 KB</div><div class="t" style="left:4.6px;top:105.88px;font-size:8.2px;color:#262626;transform:scaleX(0.95);transform-origin:0 50%;">E = 1 year - 2 years</div><div class="t" style="left:133.6px;top:105.88px;font-size:8.2px;color:#262626;transform:translateX(-100%) scaleX(0.96);transform-origin:100% 50%;">11</div><div class="t" style="left:173.6px;top:105.88px;font-size:8.2px;color:#262626;transform:translateX(-100%) scaleX(0.96);transform-origin:100% 50%;">31</div><div class="t" style="left:254.2px;top:105.88px;font-size:8.2px;color:#262626;transform:translateX(-100%) scaleX(0.96);transform-origin:100% 50%;">259.96 KB</div><div class="t" style="left:343.2px;top:105.88px;font-size:8.2px;color:#262626;transform:translateX(-100%) scaleX(0.96);transform-origin:100% 50%;">16.4 MB</div><div class="t" style="left:385.4px;top:105.88px;font-size:8.2px;color:#262626;transform:translateX(-100%) scaleX(0.96);transform-origin:100% 50%;">30.6 MB</div><div class="t" style="left:453px;top:105.88px;font-size:8.2px;color:#262626;transform:translateX(-100%) scaleX(0.96);transform-origin:100% 50%;">13.94 MB</div><div class="r" style="left:2.6px;top:116.93px;width:452.6px;height:11.94px;background:#e9e9e9;"></div><div class="t" style="left:4.6px;top:117.82px;font-size:8.2px;color:#262626;transform:scaleX(0.95);transform-origin:0 50%;">F = Over 2 years</div><div class="t" style="left:133.6px;top:117.82px;font-size:8.2px;color:#262626;transform:translateX(-100%) scaleX(0.96);transform-origin:100% 50%;">11</div><div class="t" style="left:173.6px;top:117.82px;font-size:8.2px;color:#262626;transform:translateX(-100%) scaleX(0.96);transform-origin:100% 50%;">11</div><div class="t" style="left:254.2px;top:117.82px;font-size:8.2px;color:#262626;transform:translateX(-100%) scaleX(0.96);transform-origin:100% 50%;">0 B</div><div class="t" style="left:343.2px;top:117.82px;font-size:8.2px;color:#262626;transform:translateX(-100%) scaleX(0.96);transform-origin:100% 50%;">379.13 KB</div><div class="t" style="left:385.4px;top:117.82px;font-size:8.2px;color:#262626;transform:translateX(-100%) scaleX(0.96);transform-origin:100% 50%;">596.01 KB</div><div class="t" style="left:453px;top:117.82px;font-size:8.2px;color:#262626;transform:translateX(-100%) scaleX(0.96);transform-origin:100% 50%;">216.88 KB</div><div class="r" style="left:2.6px;top:127.99px;width:452.6px;height:2px;background:#b3d9f7;"></div><div class="t" style="left:4.6px;top:130.12px;font-size:8.2px;font-weight:700;color:#000;transform:scaleX(0.98);transform-origin:0 50%;">Total</div><div class="t" style="left:133.6px;top:130.12px;font-size:8.2px;font-weight:700;color:#000;transform:translateX(-100%) scaleX(0.98);transform-origin:100% 50%;">116</div><div class="t" style="left:173.6px;top:130.12px;font-size:8.2px;font-weight:700;color:#000;transform:translateX(-100%) scaleX(0.98);transform-origin:100% 50%;">61</div><div class="t" style="left:254.2px;top:130.12px;font-size:8.2px;font-weight:700;color:#000;transform:translateX(-100%) scaleX(0.98);transform-origin:100% 50%;">1.8 MB</div><div class="t" style="left:343.2px;top:130.12px;font-size:8.2px;font-weight:700;color:#000;transform:translateX(-100%) scaleX(0.98);transform-origin:100% 50%;">90.72 MB</div><div class="t" style="left:385.4px;top:130.12px;font-size:8.2px;font-weight:700;color:#000;transform:translateX(-100%) scaleX(0.98);transform-origin:100% 50%;">108.74 MB</div><div class="t" style="left:453px;top:130.12px;font-size:8.2px;font-weight:700;color:#000;transform:translateX(-100%) scaleX(0.98);transform-origin:100% 50%;">16.22 MB</div><div class="r" style="left:-0.2px;top:198.6px;width:628.6px;height:216.4px;background:#fff;box-shadow:inset 0 0 0 1.6px #b4b4b4;"></div><div class="t l" style="left:2.4px;top:199.94px;font-size:8.8px;font-weight:700;color:#303030;transform:scaleX(1);transform-origin:0 50%;">Storage By Age</div><div class="t l" style="left:28px;top:246.38px;font-size:6.8px;color:#777;transform:translateX(-100%);transform-origin:100% 50%;">40M</div><div class="r" style="left:32px;top:250.2px;width:592px;height:0.8px;background:#f3f3f3;"></div><div class="t l" style="left:28px;top:311.18px;font-size:6.8px;color:#777;transform:translateX(-100%);transform-origin:100% 50%;">20M</div><div class="r" style="left:32px;top:315px;width:592px;height:0.8px;background:#f3f3f3;"></div><div class="t l" style="left:28px;top:375.18px;font-size:6.8px;color:#777;transform:translateX(-100%);transform-origin:100% 50%;">0M</div><div class="r" style="left:32px;top:379px;width:592px;height:0.8px;background:#f3f3f3;"></div><div class="t l" style="left:5.8px;top:298.2px;font-size:7.5px;font-weight:700;color:#252525;transform:translate(-50%,-50%) rotate(-90deg);transform-origin:50% 50%;">Storage (Bytes)</div><div class="r" style="left:69px;top:218.4px;width:69.4px;height:160.8px;background:#118dff;"></div><div class="t l" style="left:103.7px;top:381.92px;font-size:6.9px;color:#707070;transform:translateX(-50%);transform-origin:50% 50%;">D = 6 months - 1 year</div><div class="r" style="left:158.6px;top:275.6px;width:70px;height:103.6px;background:#118dff;"></div><div class="t l" style="left:193.6px;top:381.92px;font-size:6.9px;color:#707070;transform:translateX(-50%);transform-origin:50% 50%;">E = 1 year - 2 years</div><div class="r" style="left:248.2px;top:311.2px;width:70.4px;height:68px;background:#118dff;"></div><div class="t l" style="left:283.4px;top:381.92px;font-size:6.9px;color:#707070;transform:translateX(-50%);transform-origin:50% 50%;">B = 1 month - 3 months</div><div class="r" style="left:338.4px;top:359.2px;width:68.2px;height:20px;background:#118dff;"></div><div class="t l" style="left:372.5px;top:381.92px;font-size:6.9px;color:#707070;transform:translateX(-50%);transform-origin:50% 50%;">C = 3 months - 6 months</div><div class="r" style="left:427.4px;top:365.2px;width:70px;height:14px;background:#118dff;"></div><div class="t l" style="left:462.4px;top:381.92px;font-size:6.9px;color:#707070;transform:translateX(-50%);transform-origin:50% 50%;">A = Up to 1 month</div><div class="r" style="left:517.4px;top:376.2px;width:69.6px;height:3px;background:#118dff;"></div><div class="t l" style="left:552.2px;top:381.92px;font-size:6.9px;color:#707070;transform:translateX(-50%);transform-origin:50% 50%;">F = Over 2 years</div><div class="t l" style="left:329.6px;top:393.23px;font-size:7.7px;font-weight:700;color:#252525;transform:translateX(-50%);transform-origin:50% 50%;">Created Time Bands</div><div class="r" style="left:580.2px;top:36.4px;width:146.6px;height:73.4px;background:#fff;box-shadow:inset 0 0 0 1.6px #b4b4b4;"></div><div class="t" style="left:588px;top:40.68px;font-size:6px;color:#333;">Created Time</div><div class="r" style="left:589.2px;top:53px;width:52px;height:11.6px;background:#fff;box-shadow:inset 0 0 0 0.8px #f0f0f0;"></div><div class="r" style="left:646.8px;top:53px;width:53.2px;height:11.6px;background:#fff;box-shadow:inset 0 0 0 0.8px #f0f0f0;"></div><div class="t" style="left:593px;top:54.86px;font-size:7px;color:#7a7a7a;">11/7/2020</div><div class="t" style="left:650.6px;top:54.86px;font-size:7px;color:#7a7a7a;">1/30/2023</div><div class="r" style="left:634px;top:56.6px;width:4.4px;height:4.4px;background:#a0a0a0;border-radius:1px;"></div><div class="r" style="left:691.2px;top:56.6px;width:4.4px;height:4.4px;background:#a0a0a0;border-radius:1px;"></div><div class="r" style="left:597.2px;top:77.2px;width:116.8px;height:2px;background:#7d7d7d;"></div><div class="r" style="left:589.4px;top:70.6px;width:15.2px;height:15.2px;background:#fff;box-shadow:inset 0 0 0 1.4px #7d7d7d;border-radius:50%;"></div><div class="r" style="left:706.4px;top:70.6px;width:15.2px;height:15.2px;background:#fff;box-shadow:inset 0 0 0 1.4px #7d7d7d;border-radius:50%;"></div><div class="r" style="left:580.2px;top:119.4px;width:146.6px;height:74px;background:#fff;box-shadow:inset 0 0 0 1.6px #b4b4b4;"></div><div class="t" style="left:654px;top:120.5px;font-size:10.8px;color:#333;transform:translateX(-50%);transform-origin:50% 50%;">Total Storage</div><div class="t h" style="left:654.6px;top:152.73px;font-size:21.4px;color:#252525;transform:translateX(-50%) scaleX(0.95);transform-origin:50% 50%;">108.74 MB</div><div class="r" style="left:632.6px;top:201px;width:94.2px;height:61.2px;background:#fff;box-shadow:inset 0 0 0 1.6px #b4b4b4;"></div><div class="t l" style="left:639.2px;top:205.25px;font-size:5.4px;color:#333;transform:scaleX(0.98);transform-origin:0 50%;">Group by Creation Year and Month</div><div class="r" style="left:639.2px;top:219px;width:80.8px;height:12.8px;background:#fff;box-shadow:inset 0 0 0 0.8px #efefef;"></div><div class="t l" style="left:643.2px;top:222px;font-size:5.8px;color:#777;">All</div><svg class="r" style="left:710.8px;top:223px" width="8" height="6" viewBox="0 0 4 3"><path d="M0.6 0.8 L2 2.2 L3.4 0.8" fill="none" stroke="#999" stroke-width="0.45"/></svg><div class="r" style="left:632.6px;top:270.4px;width:94.2px;height:62.2px;background:#fff;box-shadow:inset 0 0 0 1.6px #b4b4b4;"></div><div class="t l" style="left:641px;top:274.14px;font-size:5.9px;color:#2a2a2a;">Last Modified Time - All</div><div class="r" style="left:640.6px;top:284.6px;width:6.4px;height:6.4px;background:#fff;box-shadow:inset 0 0 0 0.8px #b4b4b4;"></div><div class="t" style="left:652.8px;top:283.89px;font-size:6.3px;color:#3c3c3c;">(Blank)</div><div class="r" style="left:640.6px;top:297.2px;width:6.4px;height:6.4px;background:#fff;box-shadow:inset 0 0 0 0.8px #b4b4b4;"></div><div class="t" style="left:652.8px;top:296.49px;font-size:6.3px;color:#3c3c3c;">A = Up to 1 month</div><div class="r" style="left:640.6px;top:309.8px;width:6.4px;height:6.4px;background:#fff;box-shadow:inset 0 0 0 0.8px #b4b4b4;"></div><div class="t" style="left:652.8px;top:309.09px;font-size:6.3px;color:#3c3c3c;">B = 1 month - 3 months</div><div class="r" style="left:640.6px;top:322.2px;width:6.4px;height:6.4px;background:#fff;box-shadow:inset 0 0 0 0.8px #b4b4b4;"></div><div class="t" style="left:652.8px;top:321.49px;font-size:6.3px;color:#3c3c3c;">C = 3 months - 6 months</div><div class="r" style="left:720.2px;top:282.6px;width:2.4px;height:23.6px;background:#cacaca;border-radius:1px;"></div><div class="r" style="left:632.6px;top:342.2px;width:94.2px;height:72.8px;background:#fff;box-shadow:inset 0 0 0 1.6px #b4b4b4;"></div><div class="t l" style="left:641px;top:346.14px;font-size:5.9px;color:#2a2a2a;">Created Time Bands</div><div class="r" style="left:640.6px;top:357px;width:6.4px;height:6.4px;background:#fff;box-shadow:inset 0 0 0 0.8px #b4b4b4;"></div><div class="t" style="left:652.8px;top:356.29px;font-size:6.3px;color:#3c3c3c;">A = Up to 1 month</div><div class="r" style="left:640.6px;top:369.2px;width:6.4px;height:6.4px;background:#fff;box-shadow:inset 0 0 0 0.8px #b4b4b4;"></div><div class="t" style="left:652.8px;top:368.49px;font-size:6.3px;color:#3c3c3c;">B = 1 month - 3 months</div><div class="r" style="left:640.6px;top:381.8px;width:6.4px;height:6.4px;background:#fff;box-shadow:inset 0 0 0 0.8px #b4b4b4;"></div><div class="t" style="left:652.8px;top:381.09px;font-size:6.3px;color:#3c3c3c;">C = 3 months - 6 months</div><div class="r" style="left:640.6px;top:394.8px;width:6.4px;height:6.4px;background:#fff;box-shadow:inset 0 0 0 0.8px #b4b4b4;"></div><div class="t" style="left:652.8px;top:394.09px;font-size:6.3px;color:#3c3c3c;">D = 6 months - 1 year</div><div class="r" style="left:720.2px;top:353.8px;width:2.4px;height:27.4px;background:#cacaca;border-radius:1px;"></div></div></div></div>
</body></html>
